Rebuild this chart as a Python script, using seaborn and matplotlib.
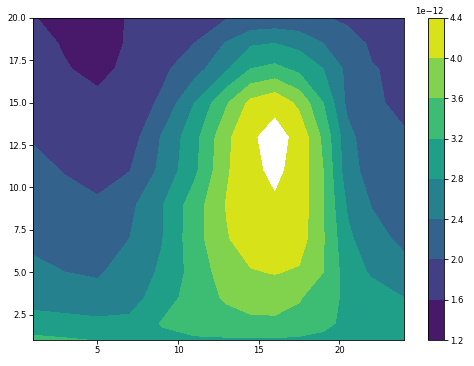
import numpy as np
import matplotlib
matplotlib.use("Agg")
import matplotlib.pyplot as plt
import seaborn as sns

sns.set_style("ticks", {'axes.edgecolor': 'black', 'xtick.color': 'black',
                        'ytick.color': 'black', 'text.color': 'black'})
plt.rcParams['font.family'] = ['DejaVu Sans']
plt.rcParams['font.size'] = 6.1

# grid coordinates
x_vals = [1, 3, 5, 7, 9, 11, 13, 14.5, 16, 17.5, 19, 20.5, 22, 24]
y_vals = [1, 2, 3.5, 5, 7, 9, 11, 13, 15, 17, 18.5, 20]

# field values (units of 1e-12), one row per y value
row_y1    = [3.30, 3.24, 3.18, 3.05, 3.10, 3.15, 3.15, 3.15, 3.15, 3.12, 3.10, 3.00, 2.95, 2.90]
row_y2    = [2.95, 2.92, 2.88, 2.88, 3.23, 3.35, 3.45, 3.52, 3.52, 3.48, 3.30, 3.10, 3.00, 2.92]
row_y3_5  = [2.65, 2.60, 2.55, 2.65, 2.98, 3.40, 3.65, 3.75, 3.78, 3.63, 3.40, 3.10, 2.98, 2.80]
row_y5    = [2.50, 2.40, 2.35, 2.58, 2.86, 3.35, 3.80, 3.97, 4.02, 3.95, 3.60, 3.00, 2.75, 2.55]
row_y7    = [2.30, 2.25, 2.22, 2.40, 2.78, 3.43, 3.97, 4.20, 4.25, 4.20, 3.63, 2.88, 2.55, 2.30]
row_y9    = [2.20, 2.12, 2.05, 2.30, 2.77, 3.40, 4.02, 4.25, 4.35, 4.25, 3.60, 2.75, 2.38, 2.20]
row_y11   = [2.10, 1.98, 1.87, 1.99, 2.50, 3.10, 3.95, 4.30, 4.50, 4.25, 3.60, 2.55, 2.25, 2.15]
row_y13   = [1.97, 1.86, 1.74, 1.80, 2.43, 3.05, 3.90, 4.35, 4.55, 4.30, 3.50, 2.52, 2.15, 2.03]
row_y15   = [1.85, 1.73, 1.67, 1.79, 2.06, 2.80, 3.55, 4.10, 4.30, 3.90, 3.20, 2.30, 2.05, 1.93]
row_y17   = [1.78, 1.62, 1.52, 1.67, 1.92, 2.22, 2.75, 3.20, 3.30, 3.10, 2.80, 2.30, 2.02, 1.93]
row_y18_5 = [1.70, 1.57, 1.48, 1.63, 1.80, 2.00, 2.43, 2.75, 2.80, 2.68, 2.40, 2.15, 1.95, 1.85]
row_y20   = [1.62, 1.47, 1.44, 1.63, 1.75, 1.87, 1.98, 2.06, 2.10, 2.08, 2.03, 1.93, 1.85, 1.78]

levels_e12 = [1.2, 1.6, 2.0, 2.4, 2.8, 3.2, 3.6, 4.0, 4.4]

Z = np.array([row_y1, row_y2, row_y3_5, row_y5, row_y7, row_y9, row_y11,
              row_y13, row_y15, row_y17, row_y18_5, row_y20]) * 1e-12
X, Y = np.meshgrid(x_vals, y_vals)
levels = np.array(levels_e12) * 1e-12

fig = plt.figure(figsize=(4.74, 3.66), dpi=100)
ax = fig.add_axes([0.0696, 0.071, 0.7824, 0.880])
cax = fig.add_axes([0.903, 0.071, 0.033, 0.880])

cmap = sns.color_palette("viridis", as_cmap=True)
cs = ax.contourf(X, Y, Z, levels=levels, cmap=cmap)
ax.set_xlim(1, 24)
ax.set_ylim(1, 20)
cb = fig.colorbar(cs, cax=cax)

for a in (ax, cax):
    a.tick_params(length=2.6, width=0.6, labelsize=6.1, pad=2, colors='black')
    for s in a.spines.values():
        s.set_linewidth(0.6)
        s.set_edgecolor('black')
cb.outline.set_linewidth(0.6)
cb.outline.set_edgecolor('black')
cax.yaxis.get_offset_text().set_fontsize(6.1)
cax.yaxis.get_offset_text().set_color('black')

fig.savefig("out.png", dpi=100)
